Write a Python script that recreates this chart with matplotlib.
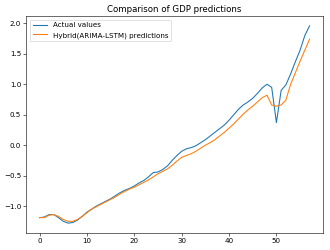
import matplotlib
matplotlib.use("Agg")
import matplotlib.pyplot as plt
import numpy as np

# values (58 time steps, 0..57)
actual = [-1.19, -1.18, -1.14, -1.14, -1.19, -1.25, -1.28, -1.27, -1.23, -1.17,
          -1.10, -1.05, -1.00, -0.96, -0.92, -0.88, -0.83, -0.78, -0.74, -0.71,
          -0.67, -0.62, -0.58, -0.52, -0.45, -0.44, -0.40, -0.34, -0.25, -0.17,
          -0.10, -0.06, -0.04, -0.01, 0.04, 0.09, 0.15, 0.21, 0.27, 0.33,
          0.41, 0.50, 0.59, 0.66, 0.71, 0.77, 0.85, 0.94, 1.00, 0.95,
          0.37, 0.90, 0.99, 1.17, 1.37, 1.56, 1.80, 1.96]
hybrid = [-1.19, -1.19, -1.15, -1.14, -1.17, -1.22, -1.25, -1.25, -1.22, -1.17,
          -1.11, -1.05, -1.01, -0.97, -0.93, -0.89, -0.85, -0.80, -0.76, -0.72,
          -0.69, -0.65, -0.61, -0.57, -0.52, -0.47, -0.43, -0.39, -0.33, -0.26,
          -0.20, -0.17, -0.14, -0.10, -0.05, 0.00, 0.04, 0.09, 0.15, 0.21,
          0.28, 0.35, 0.43, 0.51, 0.58, 0.64, 0.71, 0.78, 0.82, 0.66,
          0.64, 0.66, 0.74, 1.00, 1.19, 1.38, 1.56, 1.74]

x = np.arange(len(actual))

fig = plt.figure(figsize=(6.4, 4.85), dpi=330 / 6.4)
fig.subplots_adjust(left=0.079, right=0.979, top=0.936, bottom=0.068)
plt.plot(x, actual, label="Actual values")
plt.plot(x, hybrid, label="Hybrid(ARIMA-LSTM) predictions")
plt.title("Comparison of GDP predictions")
plt.legend(loc="upper left")
plt.savefig("out.png")
